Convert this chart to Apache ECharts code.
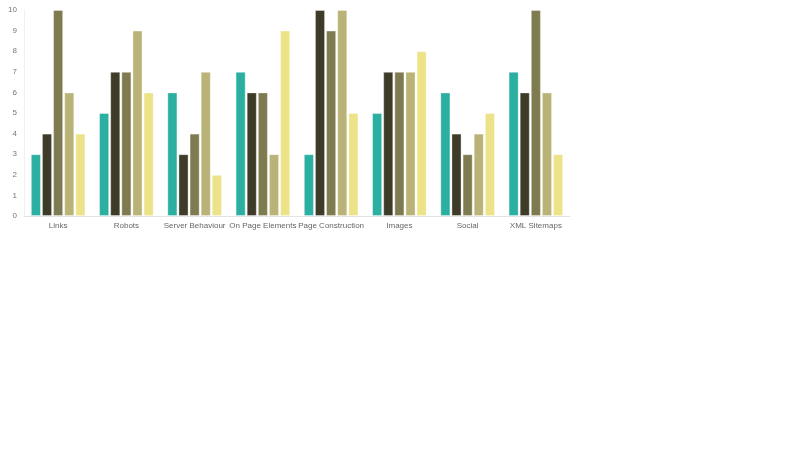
<!DOCTYPE html>
<html><head><meta charset="utf-8">
<script src="https://cdn.jsdelivr.net/npm/echarts@6/dist/echarts.min.js"></script>
<style>html,body{margin:0;padding:0;background:#fff}#c{width:800px;height:450px}</style>
</head><body><div id="c"></div>
<script>
var categories = ['Links','Robots','Server Behaviour','On Page Elements','Page Construction','Images','Social','XML Sitemaps'];
var s1 = [3,5,6,7,3,5,6,7];
var s2 = [4,7,3,6,10,7,4,6];
var s3 = [10,7,4,6,9,7,3,10];
var s4 = [6,9,7,3,10,7,4,6];
var s5 = [4,6,2,9,5,8,5,3];
var colors = ['#2aafa0','#3e3c29','#7f7b51','#bab377','#ece287'];
var seriesData = [s1,s2,s3,s4,s5];
var chart = echarts.init(document.getElementById('c'));
chart.setOption({
  animation:false,
  grid:{left:24,right:230,top:10,bottom:234,containLabel:false},
  xAxis:{type:'category',data:categories,
    axisLine:{lineStyle:{color:'#e3e3e3'}},axisTick:{show:false},
    axisLabel:{color:'#666',fontSize:8,fontFamily:'Liberation Sans, Arial, sans-serif',margin:6,interval:0}},
  yAxis:{type:'value',min:0,max:10,interval:1,
    axisLine:{show:true,lineStyle:{color:'#f0f0f0'}},axisTick:{show:false},splitLine:{show:false},
    axisLabel:{color:'#777',fontSize:8,fontFamily:'Liberation Sans, Arial, sans-serif',margin:7}},
  series:seriesData.map(function(d,i){return {type:'bar',data:d,barGap:'10%',barCategoryGap:'20%',
    itemStyle:{color:colors[i],borderColor:'rgba(255,255,255,0.35)',borderWidth:1}};})
});
</script></body></html>
